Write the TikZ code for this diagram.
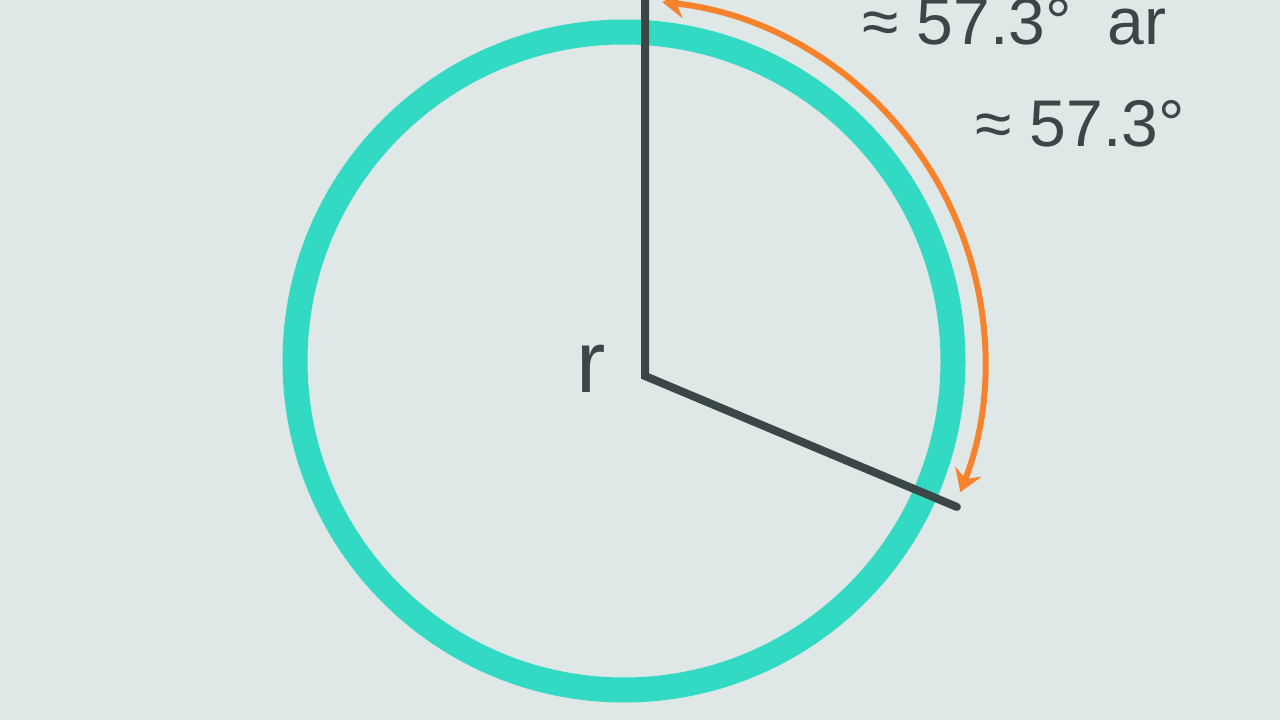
\documentclass[tikz,border=0pt]{standalone}
\usepackage{fontspec}
\setmainfont{Liberation Sans}
\usetikzlibrary{arrows.meta}
\definecolor{bgcol}{HTML}{DFE7E7}
\definecolor{ringcol}{HTML}{33DAC3}
\definecolor{linecol}{HTML}{3B4646}
\definecolor{arccol}{HTML}{F6832B}
\begin{document}
\begin{tikzpicture}[x=1pt,y=1pt,
    ring/.style={draw=ringcol,line width=25pt},
    radiusline/.style={draw=linecol,line width=8pt,line cap=round},
    arcarrow/.style={draw=arccol,line width=6pt,
      {Stealth[length=22pt,width=28pt,inset=8pt]}-{Stealth[length=22pt,width=28pt,inset=8pt]}},
    lbl/.style={text=linecol,inner sep=0pt,font=\fontsize{66}{70}\selectfont}]
  \fill[bgcol] (0,0) rectangle (1280,720);
  \useasboundingbox (0,0) rectangle (1280,720);
  \coordinate (C) at (624,359);
  \coordinate (O) at (645,344);
  \coordinate (T) at (645,735);
  \coordinate (E) at (957,213);
  \draw[ring] (C) circle (329);
  \draw[radiusline] (T) -- (O) -- (E);
  \draw[arcarrow] ([shift={(83.9:361)}]C) arc[start angle=83.9,end angle=-21.3,radius=361];
  \node[lbl,anchor=base west] (top) at (862,675) {≈ 57.3°\hspace{36pt}ar};
  \node[lbl,anchor=base east] (deg) at (1185,573) {≈ 57.3°};
  \node[lbl,anchor=base west,font=\fontsize{88}{90}\selectfont] (r) at (576,327) {r};
\end{tikzpicture}
\end{document}
